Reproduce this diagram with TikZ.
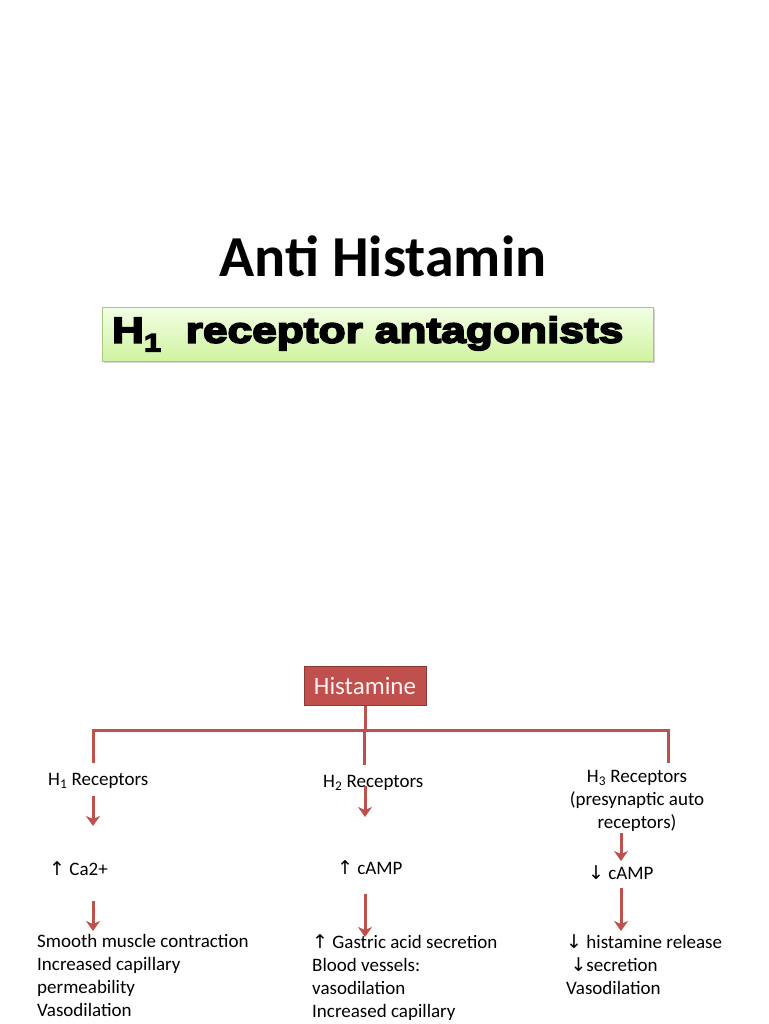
\documentclass[tikz,border=0pt]{standalone}
\usepackage{fontspec}
\setmainfont{Carlito}
\newfontfamily\arrowfont{DejaVu Sans}
\newfontfamily\heavyfont{Liberation Sans}[BoldFeatures={FakeBold=5,FakeStretch=1.23}]
\usetikzlibrary{arrows.meta,shadows}
\definecolor{histred}{HTML}{C0504D}
\definecolor{histredline}{HTML}{8C3836}
\definecolor{greentop}{HTML}{F2FFE4}
\definecolor{greenbot}{HTML}{D0F3A0}
\definecolor{greenline}{HTML}{A8C77C}
\newcommand{\uparr}{{\arrowfont\char"2191}}
\newcommand{\downarr}{{\arrowfont\char"2193}}
\tikzset{
  flow/.style={draw=histred,line width=3pt},
  flowarrow/.style={flow,-{Stealth[length=10pt,width=14pt,inset=3pt]}},
  bodytxt/.style={inner sep=0pt,font=\fontsize{19}{23}\selectfont,align=left},
  titletxt/.style={inner sep=0pt,font=\bfseries\fontsize{58}{60}\selectfont},
  greenbox/.style={draw=greenline,line width=1pt,top color=greentop,bottom color=greenbot,
    minimum height=54pt,text width=531pt,inner xsep=10pt,align=left,
    drop shadow={shadow xshift=2pt,shadow yshift=-2pt,opacity=.35},
    font=\heavyfont\bfseries\fontsize{36}{38}\selectfont},
  histbox/.style={draw=histredline,line width=1pt,fill=histred,text=white!95!red,
    minimum width=122pt,minimum height=39pt,inner sep=0pt,
    font=\fontsize{25}{28}\selectfont}
}
\begin{document}
\begin{tikzpicture}[x=1pt,y=-1pt]
  \useasboundingbox (0,0) rectangle (768,1024);
  % heading
  \node[titletxt] (title) at (383,256) {Anti Histamin};
  \node[greenbox] (classbox) at (377.5,334) {H\textsubscript{1}\ \ receptor antagonists};
  % tree
  \node[histbox] (hist) at (365,685.5) {Histamine};
  \coordinate (bl) at (93,730);
  \coordinate (br) at (668,730);
  \coordinate (dl) at (93,763);
  \coordinate (dm) at (364,765);
  \coordinate (dr) at (668,763);
  \draw[flow] (hist.south) -- (hist.south |- bl);
  \draw[flow] (dl) -- (bl) -- (br) -- (dr);
  \draw[flow] (dm |- bl) -- (dm);
  % H1 column
  \node[bodytxt,anchor=west] (h1) at (48,781) {H\textsubscript{1} Receptors};
  \node[bodytxt,anchor=west] (ca) at (49,869) {\uparr\ Ca2+};
  \node[bodytxt,anchor=north west] (h1eff) at (37,934)
    {Smooth muscle contraction\\Increased capillary\\permeability\\Vasodilation};
  % H2 column
  \node[bodytxt,anchor=west] (h2) at (323,783) {H\textsubscript{2} Receptors};
  \node[bodytxt,anchor=west] (camp2) at (337,868) {\uparr\ cAMP};
  \node[bodytxt,anchor=north west] (h2eff) at (312,934)
    {\uparr\ Gastric acid secretion\\Blood vessels:\\vasodilation\\Increased capillary};
  % H3 column
  \node[bodytxt,align=center] (h3) at (637,801)
    {H\textsubscript{3} Receptors\\(presynaptic auto\\receptors)};
  \node[bodytxt,anchor=west] (camp3) at (588,873) {\downarr\ cAMP};
  \node[bodytxt,anchor=north west] (h3eff) at (566,934)
    {\downarr\ histamine release\\\ \downarr secretion\\Vasodilation};
  % arrow ends
  \coordinate (a1s) at (93,796);  \coordinate (a1e) at (93,826);
  \coordinate (a2s) at (93,901);  \coordinate (a2e) at (93,931);
  \coordinate (a3s) at (365,786); \coordinate (a3e) at (365,817);
  \coordinate (a4s) at (365,894); \coordinate (a4e) at (365,937);
  \coordinate (a5s) at (621,833); \coordinate (a5e) at (621,861);
  \coordinate (a6s) at (621,888); \coordinate (a6e) at (621,931);
  \foreach \s/\e in {a1s/a1e,a2s/a2e,a3s/a3e,a4s/a4e,a5s/a5e,a6s/a6e}
    \draw[flowarrow] (\s) -- (\e);
\end{tikzpicture}
\end{document}
